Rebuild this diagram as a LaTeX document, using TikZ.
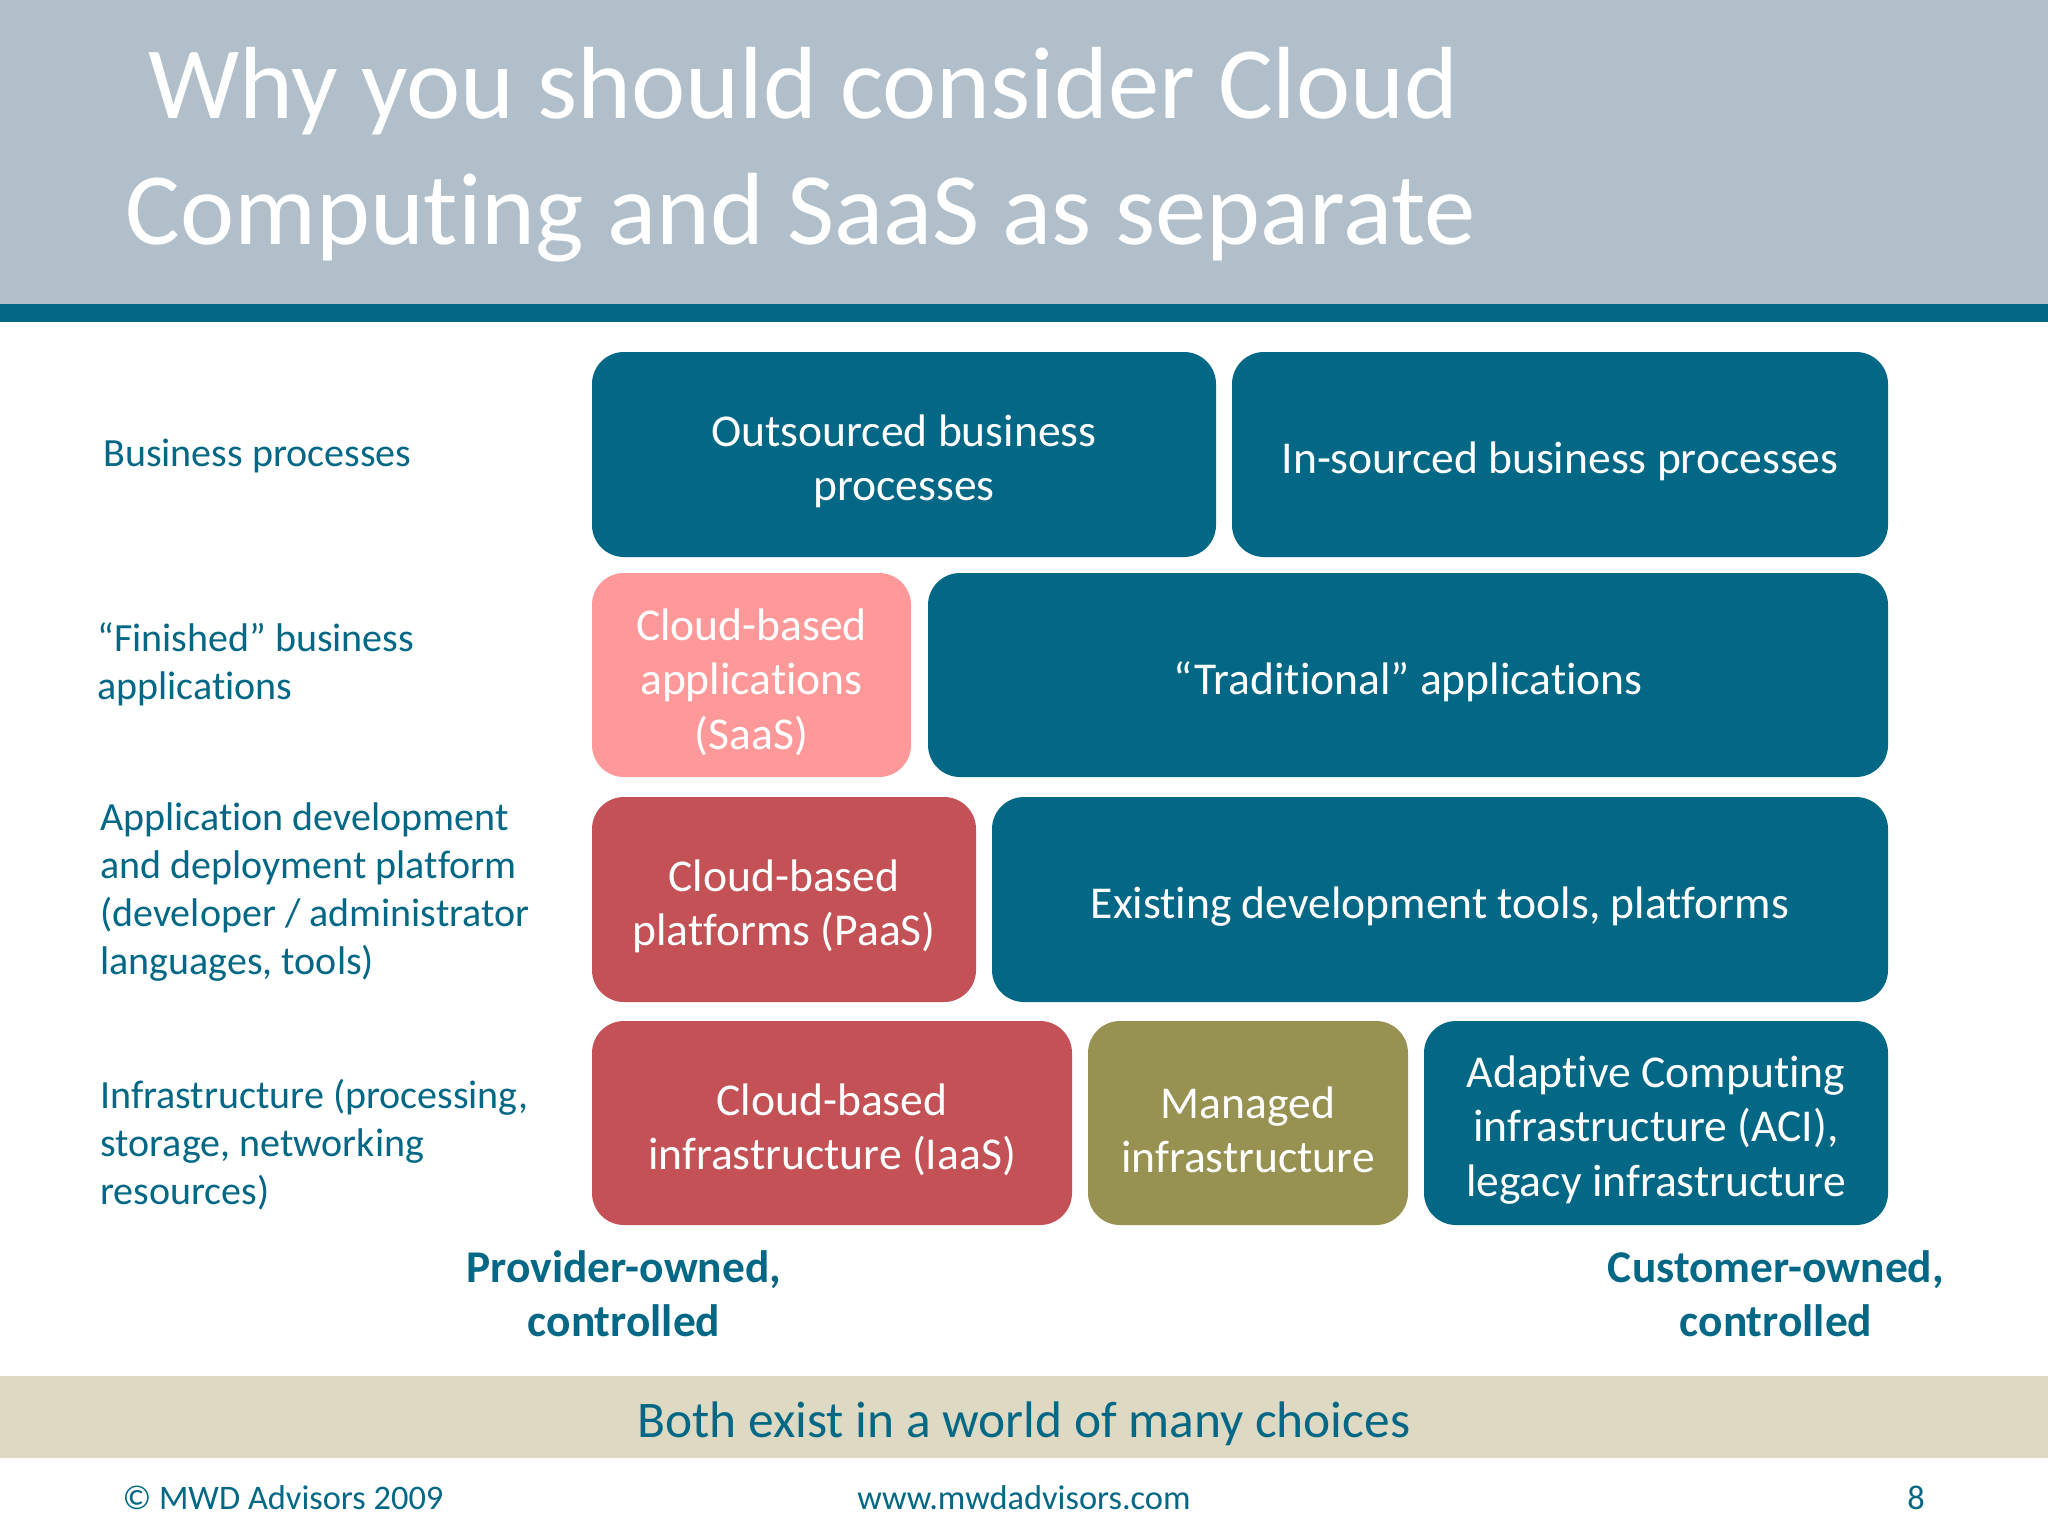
\documentclass[tikz,border=0pt]{standalone}
\usepackage{fontspec}
\setmainfont{Carlito}[Ligatures=NoCommon]
\usepackage{xcolor}
\definecolor{tealblue}{HTML}{036885}
\definecolor{bandgrey}{HTML}{B0BFC9}
\definecolor{saaspink}{HTML}{FF9999}
\definecolor{cloudred}{HTML}{C45155}
\definecolor{managedolive}{HTML}{979252}
\definecolor{barbeige}{HTML}{DDD9C3}
\tikzset{
  block/.style={rounded corners=16pt,inner sep=0pt,align=center,text=white,
    font=\fontsize{22.8}{27.2}\selectfont},
  rowlabel/.style={anchor=west,inner sep=0pt,align=left,text=tealblue,
    font=\fontsize{20}{24}\selectfont},
  ownlabel/.style={inner sep=0pt,align=center,text=tealblue,
    font=\fontsize{22.7}{27.2}\selectfont\bfseries},
  titleline/.style={anchor=base west,inner sep=0pt,text=white,
    font=\fontsize{51.3}{55}\selectfont},
  footlabel/.style={anchor=base,inner sep=0pt,text=tealblue,
    font=\fontsize{17.2}{20}\selectfont},
}
% x0 y0 x1 y1 in pixels of the slide
\newcommand{\blockat}[7]{\path[fill=#6,rounded corners=16pt] (#2,#3) rectangle (#4,#5);
  \node[block] (#1) at ({(#2+#4)/2},{(#3+#5)/2+7}) {#7};}
\begin{document}
\begin{tikzpicture}[x=0.5pt,y=-0.5pt]
  \useasboundingbox (0,0) rectangle (2048,1536);
  \fill[white] (0,0) rectangle (2048,1536);

  % title
  \fill[bandgrey] (0,0) rectangle (2048,304);
  \fill[tealblue] (0,304) rectangle (2048,322);
  \node[titleline] (titlea) at (148,119) {Why you should consider Cloud};
  \node[titleline] (titleb) at (125,244) {Computing and SaaS as separate};

  % left column
  \node[rowlabel] (process) at (103,456) {Business processes};
  \node[rowlabel] (finished) at (97,664) {“Finished” business\\applications};
  \node[rowlabel] (platform) at (100,892) {Application development\\and deployment platform\\(developer / administrator\\languages, tools)};
  \node[rowlabel] (infra) at (100,1145) {Infrastructure (processing,\\storage, networking\\resources)};

  % blocks
  \blockat{outsourced}{592}{352}{1216}{557}{tealblue}{Outsourced business\\processes}
  \blockat{insourced}{1232}{352}{1888}{557}{tealblue}{In-sourced business processes}
  \blockat{saas}{592}{573}{911}{777}{saaspink}{Cloud-based\\applications\\(SaaS)}
  \blockat{traditional}{928}{573}{1888}{777}{tealblue}{“Traditional” applications}
  \blockat{paas}{592}{797}{976}{1002}{cloudred}{Cloud-based\\platforms (PaaS)}
  \blockat{tools}{992}{797}{1888}{1002}{tealblue}{Existing development tools, platforms}
  \blockat{iaas}{592}{1021}{1072}{1225}{cloudred}{Cloud-based\\infrastructure (IaaS)}
  \blockat{managed}{1088}{1021}{1408}{1225}{managedolive}{Managed\\infrastructure}
  \blockat{aci}{1424}{1021}{1888}{1225}{tealblue}{Adaptive Computing\\infrastructure (ACI),\\legacy infrastructure}

  % owners
  \node[ownlabel] (provider) at (624,1294) {Provider-owned,\\controlled};
  \node[ownlabel] (customer) at (1776,1294) {Customer-owned,\\controlled};

  % bottom
  \fill[barbeige] (0,1376) rectangle (2048,1458);
  \node[inner sep=0pt,text=tealblue,font=\fontsize{25.7}{28}\selectfont] (choices) at (1024,1424) {Both exist in a world of many choices};
  \node[footlabel] (copyright) at (283,1509) {© MWD Advisors 2009};
  \node[footlabel] (website) at (1024,1509) {www.mwdadvisors.com};
  \node[footlabel] (pagenum) at (1916,1509) {8};
\end{tikzpicture}
\end{document}
